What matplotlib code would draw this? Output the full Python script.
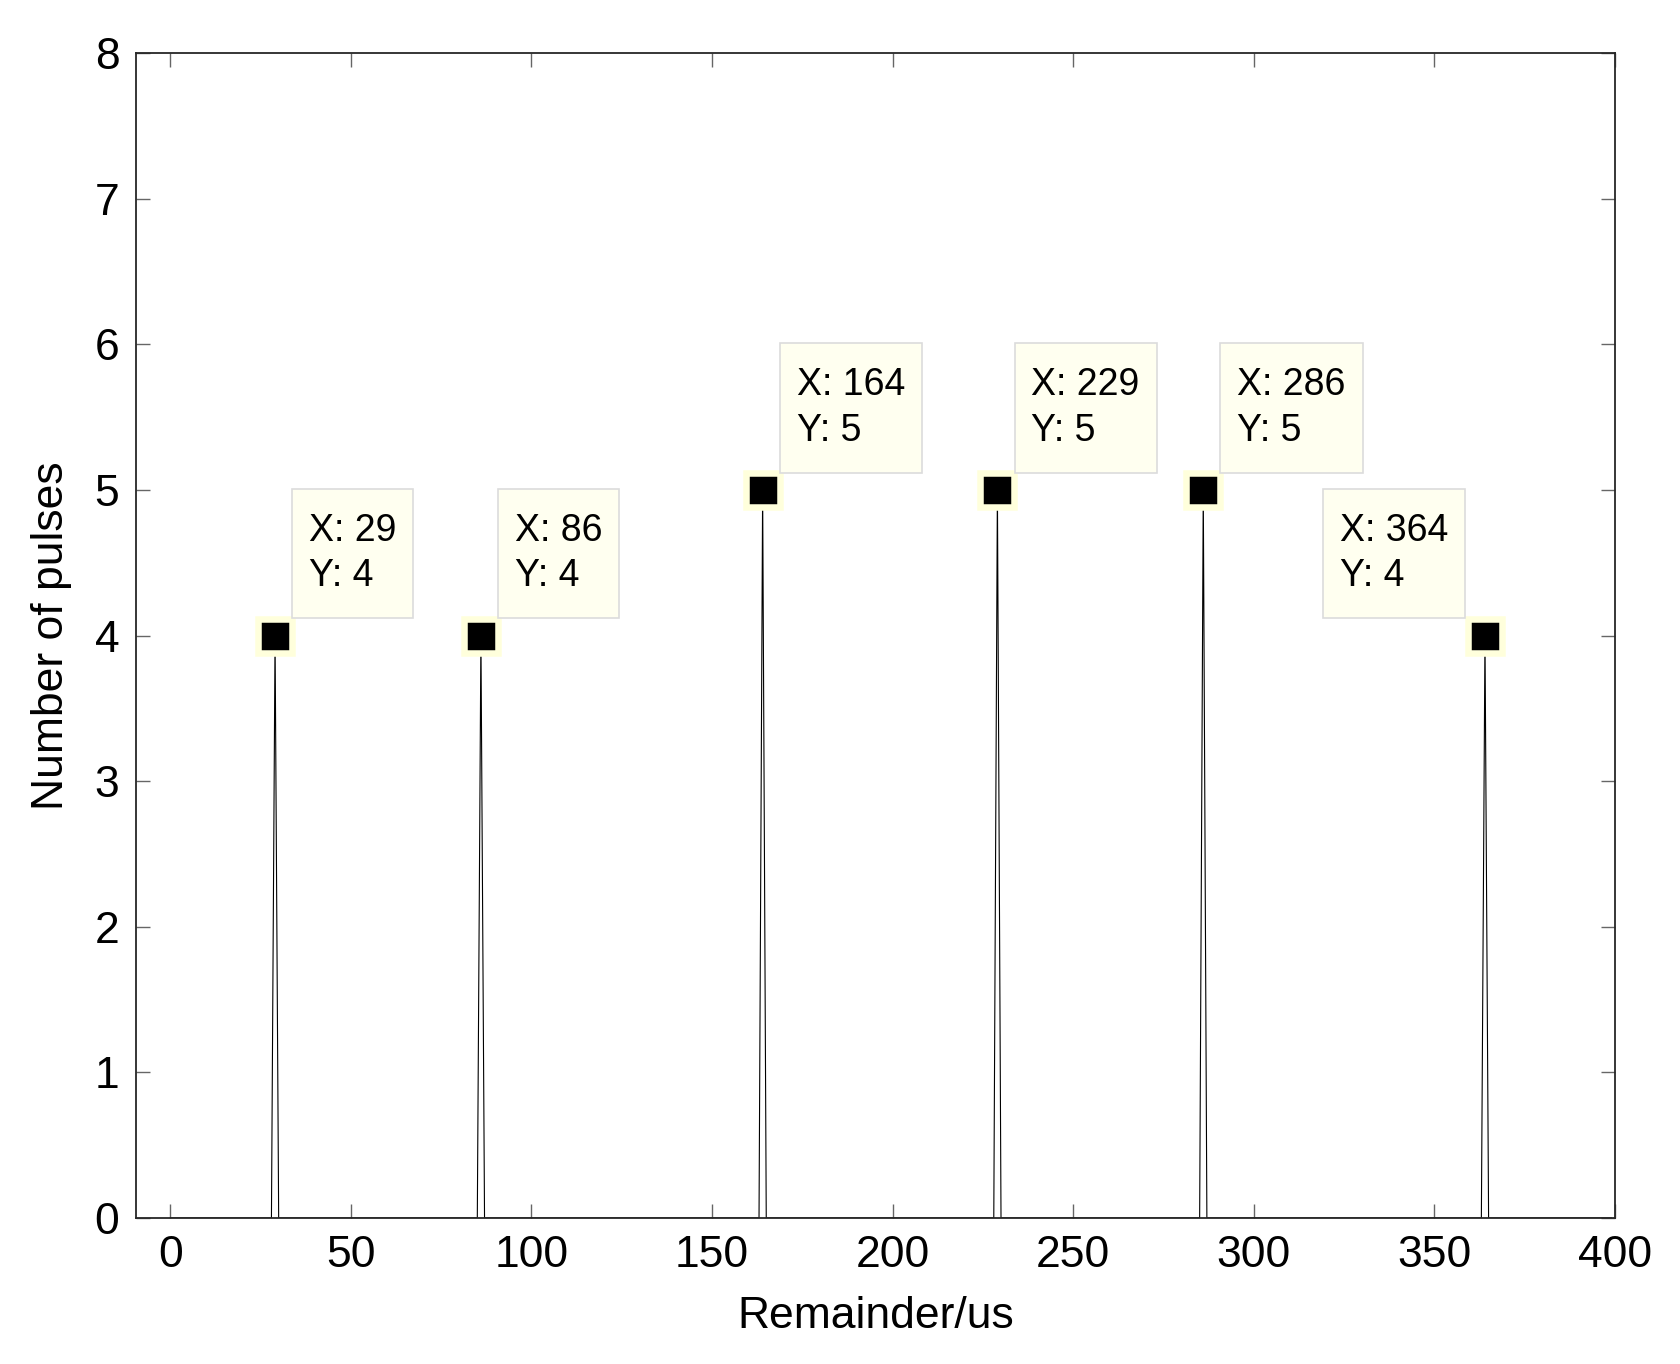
import numpy as np
import matplotlib
matplotlib.use("Agg")
import matplotlib.pyplot as plt
from matplotlib.path import Path

# remainder bins (us) and pulse counts, zero except at the peaks
peak_x = [29, 86, 164, 229, 286, 364]
peak_y = [4, 4, 5, 5, 5, 4]
n_bins = 400

x_ticks = [0, 50, 100, 150, 200, 250, 300, 350, 400]
y_ticks = [0, 1, 2, 3, 4, 5, 6, 7, 8]

plt.rcParams["font.family"] = ["Liberation Sans", "DejaVu Sans"]

remainder = np.arange(n_bins)
counts = np.zeros(n_bins)
counts[peak_x] = peak_y


def tip_box(x0, y0, width, height, mutation_size):
    # data-tip box: a bit more padding vertically than horizontally
    px, py = 0.45 * mutation_size, 0.63 * mutation_size
    x0, y0 = x0 - px, y0 - py
    x1, y1 = x0 + width + 2 * px, y0 + height + 2 * py
    return Path([(x0, y0), (x1, y0), (x1, y1), (x0, y1), (x0, y0)], closed=True)


fig = plt.figure(figsize=(16.8, 13.64), dpi=100)
ax = fig.add_axes([136 / 1680, 1 - 1218 / 1364, (1615 - 136) / 1680, (1218 - 53) / 1364])

ax.plot(remainder, counts, color="black", linewidth=0.8)
ax.plot(peak_x, peak_y, linestyle="none", marker="s", markersize=24,
        markerfacecolor="black", markeredgecolor="#FFFFDC", markeredgewidth=4.7,
        zorder=5)

for px, py in zip(peak_x, peak_y):
    left = px > 350
    ax.annotate(f"X: {px}\nY: {py}", xy=(px, py),
                xytext=(-37 if left else 34, 41), textcoords="offset pixels",
                ha="right" if left else "left", va="bottom", multialignment="left",
                fontsize=27, linespacing=1.35, zorder=6,
                bbox=dict(boxstyle=tip_box, fc="#FFFFF0", ec="#DCDCDC", lw=1.2))

ax.set_xlim(-9.5, 400)
ax.set_ylim(0, 8)
ax.set_xticks(x_ticks)
ax.set_yticks(y_ticks)
ax.tick_params(direction="in", top=True, right=True, length=10, width=1,
               color="#666666", labelsize=32, pad=12)
for sp in ax.spines.values():
    sp.set_linewidth(1.3)
    sp.set_color("#262626")

ax.set_xlabel("Remainder/us", fontsize=32, labelpad=15)
ax.set_ylabel("Number of pulses", fontsize=32, labelpad=16)

fig.savefig("out.png", dpi=100)
